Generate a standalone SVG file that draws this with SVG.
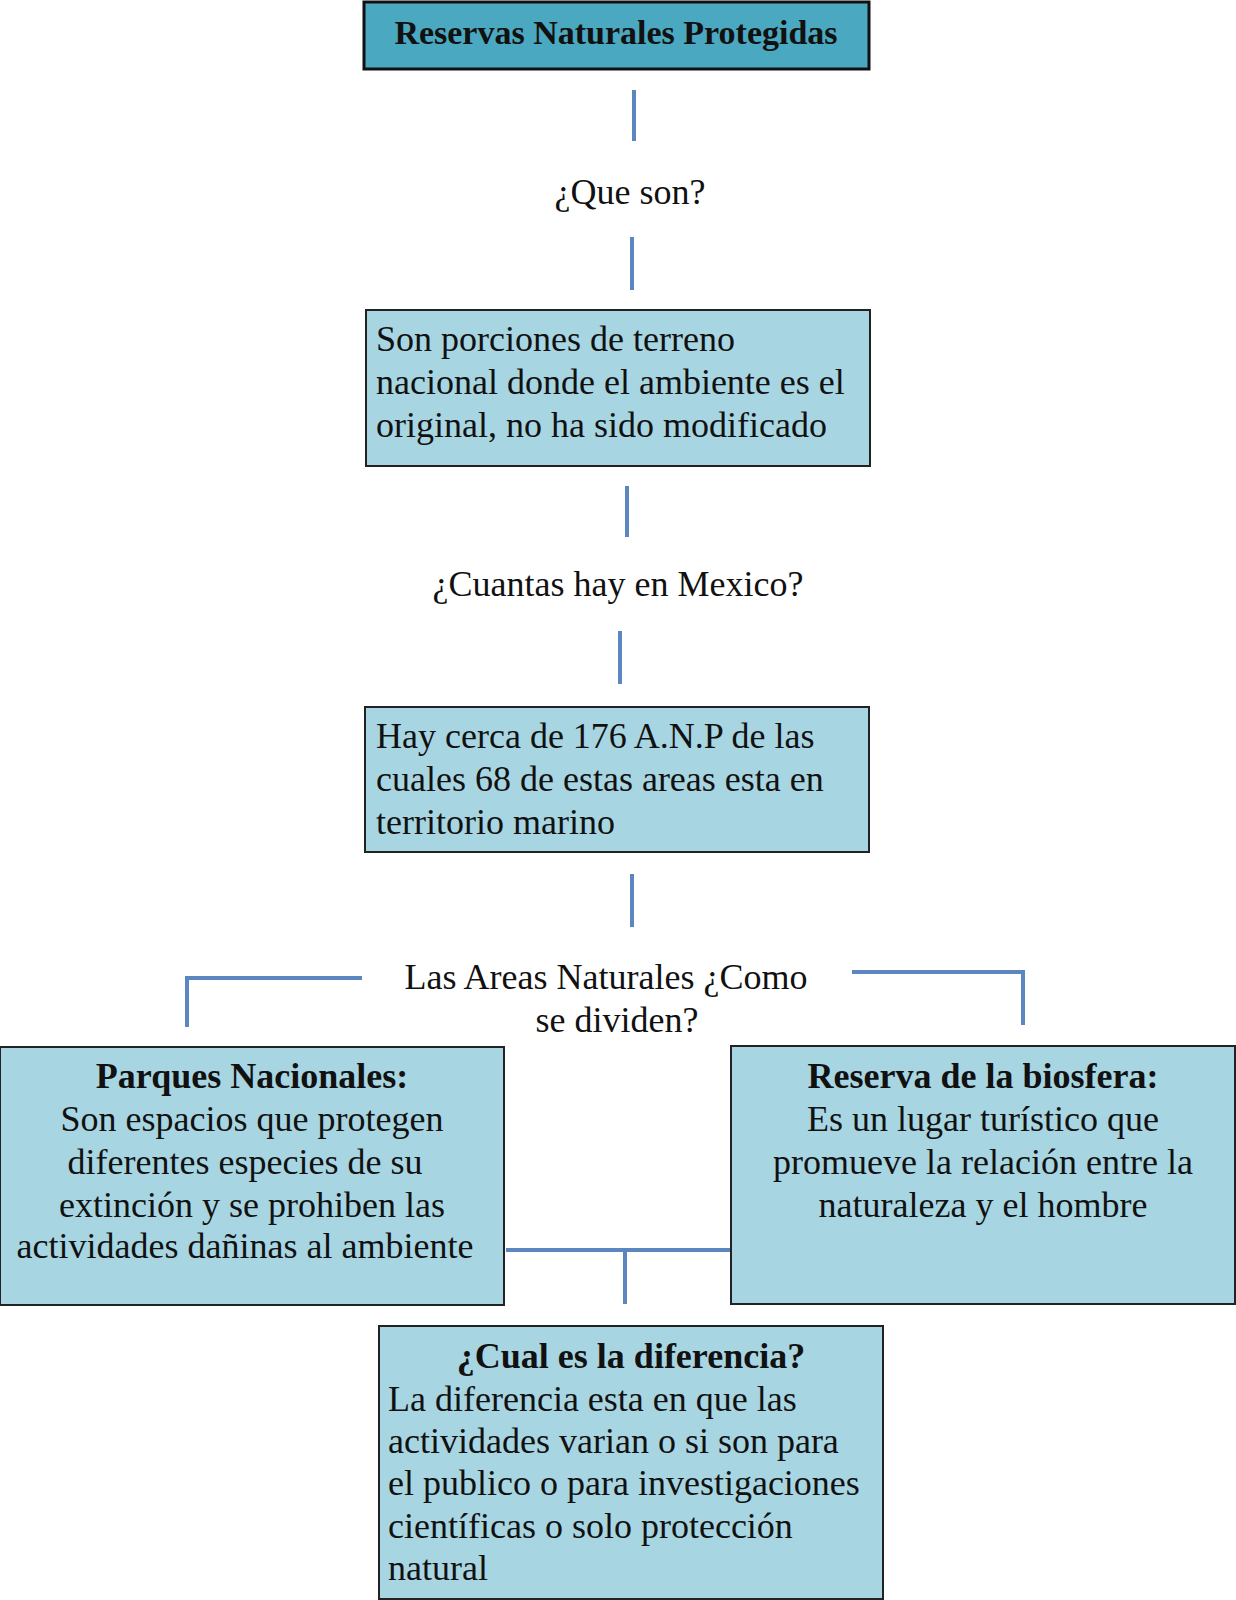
<svg xmlns="http://www.w3.org/2000/svg" width="1236" height="1600" viewBox="0 0 1236 1600">
<style>
text{font-family:"Liberation Serif","Times New Roman",serif;font-size:36px;fill:#111}
.b{font-weight:bold}
.c{text-anchor:middle}
.box{fill:#a8d5e2;stroke:#222;stroke-width:2}
.ln{stroke:#5b86c0;stroke-width:4;fill:none}
</style>
<rect width="1236" height="1600" fill="#fff"/>
<g id="connectors">
<line class="ln" x1="634" y1="90" x2="634" y2="141"/>
<line class="ln" x1="632" y1="237" x2="632" y2="290"/>
<line class="ln" x1="627" y1="486" x2="627" y2="537"/>
<line class="ln" x1="620" y1="631" x2="620" y2="684"/>
<line class="ln" x1="632" y1="874" x2="632" y2="927"/>
<polyline class="ln" points="362,978 187,978 187,1027"/>
<polyline class="ln" points="852,972 1023,972 1023,1025"/>
<line class="ln" x1="506" y1="1250" x2="731" y2="1250"/>
<line class="ln" x1="625" y1="1250" x2="625" y2="1304"/>
</g>
<g id="title"><rect x="364" y="2" width="505" height="67" fill="#4aa8c0" stroke="#111" stroke-width="3"/>
<text class="b c" x="616" y="44" style="font-size:34px">Reservas Naturales Protegidas</text></g>
<g id="q1"><text class="c" x="630" y="204">¿Que son?</text></g>
<g id="a1"><rect class="box" x="366" y="310" width="504" height="156"/>
<text x="376" y="351">Son porciones de terreno</text>
<text x="376" y="394">nacional donde el ambiente es el</text>
<text x="376" y="437">original, no ha sido modificado</text></g>
<g id="q2"><text class="c" x="618" y="596">¿Cuantas hay en Mexico?</text></g>
<g id="a2"><rect class="box" x="365" y="707" width="504" height="145"/>
<text x="376" y="748">Hay cerca de 176 A.N.P de las</text>
<text x="376" y="791">cuales 68 de estas areas esta en</text>
<text x="376" y="834">territorio marino</text></g>
<g id="q3"><text class="c" x="606" y="989">Las Areas Naturales ¿Como</text>
<text class="c" x="617" y="1032">se dividen?</text></g>
<g id="parques"><rect class="box" x="0" y="1047" width="504" height="258"/>
<text class="b c" x="252" y="1088">Parques Nacionales:</text>
<text class="c" x="252" y="1131">Son espacios que protegen</text>
<text class="c" x="245" y="1174">diferentes especies de su</text>
<text class="c" x="252" y="1217">extinción y se prohiben las</text>
<text class="c" x="245" y="1258">actividades dañinas al ambiente</text></g>
<g id="biosfera"><rect class="box" x="731" y="1046" width="504" height="258"/>
<text class="b c" x="983" y="1088">Reserva de la biosfera:</text>
<text class="c" x="983" y="1131">Es un lugar turístico que</text>
<text class="c" x="983" y="1174">promueve la relación entre la</text>
<text class="c" x="983" y="1217">naturaleza y el hombre</text></g>
<g id="diferencia"><rect class="box" x="379" y="1326" width="504" height="273"/>
<text class="b c" x="631" y="1368">¿Cual es la diferencia?</text>
<text x="388" y="1411">La diferencia esta en que las</text>
<text x="388" y="1453">actividades varian o si son para</text>
<text x="388" y="1495">el publico o para investigaciones</text>
<text x="388" y="1538">científicas o solo protección</text>
<text x="388" y="1580">natural</text></g>
</svg>
